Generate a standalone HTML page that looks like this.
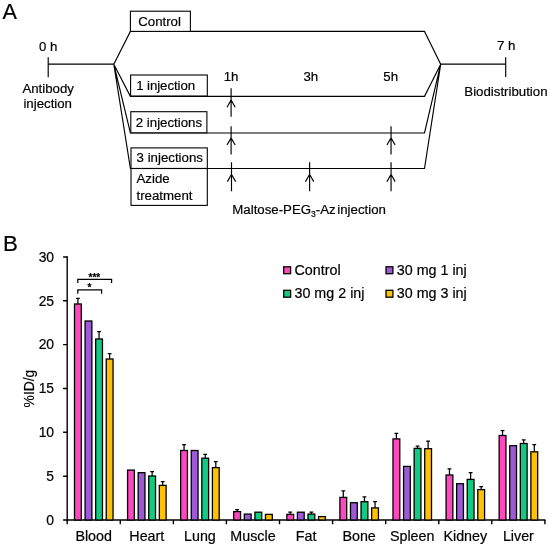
<!DOCTYPE html>
<html><head><meta charset="utf-8"><title>Figure</title>
<style>
html,body{margin:0;padding:0;background:#fff;}
body{width:550px;height:547px;overflow:hidden;}
svg{display:block;font-family:"Liberation Sans",Arial,sans-serif;fill:#000;}
text{stroke:#000;stroke-width:0.2;}
.l{stroke:#000;stroke-width:1.15;fill:none;}
.ax{stroke:#000;stroke-width:1.4;fill:none;}
.bx{stroke:#000;stroke-width:1.1;fill:#fff;}
.t13{font-size:13.25px;}
.t14{font-size:14.3px;}
.b{stroke:#000;stroke-width:1.3;}
.e{stroke:#000;stroke-width:1.25;fill:none;}
</style></head><body>
<svg width="550" height="547" viewBox="0 0 550 547">
<rect width="550" height="547" fill="#fff"/>

<text transform="translate(2.6 19.1) scale(0.95 1)" font-size="22.8">A</text>
<text transform="translate(3 251.2)" font-size="22.3">B</text>
<text class="t13" x="48.1" y="50.7" text-anchor="middle">0 h</text>
<text class="t13" x="48.2" y="92.8" text-anchor="middle">Antibody</text>
<text class="t13" x="47.7" y="107.8" text-anchor="middle">injection</text>
<path class="l" d="M48.2 57.3V77.3M48.2 64.2H113.8"/>
<path class="l" d="M113.8 64.2L130.4 31.4H424.5L440.7 64.2M113.8 64.2L130.4 96.3H424.5L440.7 64.2M113.8 64.2L130.4 132.95H424.5L440.7 64.2M113.8 64.2L130.4 168.5H424.5L440.7 64.2"/>
<path class="l" d="M440.7 64.2H505.7M505.7 57.3V77"/>
<rect class="bx" x="130.4" y="11.2" width="60" height="20.2"/>
<rect class="bx" x="130.6" y="75" width="76.7" height="21"/>
<rect class="bx" x="130.8" y="111.7" width="76.1" height="21.1"/>
<rect class="bx" x="131" y="147.9" width="76.3" height="20.6"/>
<rect class="bx" x="131" y="168.5" width="76.3" height="36.9"/>
<text class="t13" x="138.2" y="26.2">Control</text>
<text class="t13" letter-spacing="-0.08" x="136.2" y="90">1 injection</text>
<text class="t13" x="135.8" y="126.6">2 injections</text>
<text class="t13" x="136.6" y="162.1">3 injections</text>
<text class="t13" x="136.5" y="183.1">Azide</text>
<text class="t13" x="136.5" y="199.6">treatment</text>
<text class="t13" x="231" y="80.6" text-anchor="middle">1h</text>
<text class="t13" x="310.8" y="80.6" text-anchor="middle">3h</text>
<text class="t13" x="390.7" y="80.6" text-anchor="middle">5h</text>
<text class="t13" x="497" y="50.3">7 h</text>
<text class="t13" x="464.3" y="96.1">Biodistribution</text>
<text class="t13" x="232.3" y="214.4">Maltose-PEG<tspan font-size="8.5" dy="2.5">3</tspan><tspan dy="-2.5">-Az</tspan><tspan dx="1.6">injection</tspan></text>
<path class="l" d="M231.1 88.3V116.8M227.00 107.3L231.1 100L235.20 107.3"/>
<path class="l" d="M231.1 126.2V154.6M227.00 145L231.1 138L235.20 145"/>
<path class="l" d="M231.5 162.3V191.2M227.40 181.6L231.5 174.3L235.60 181.6"/>
<path class="l" d="M309.6 162.3V191.2M305.50 181.6L309.6 174.3L313.70 181.6"/>
<path class="l" d="M391.05 126.2V154.6M386.95 145L391.05 138L395.15 145"/>
<path class="l" d="M391.05 162.3V191.2M386.95 181.6L391.05 174.3L395.15 181.6"/>
<path class="ax" d="M67.2 256.3V520.0H545.5"/>
<text class="t14" style="font-size:13.9px" x="54.1" y="524.7" text-anchor="end">0</text>
<text class="t14" style="font-size:13.9px" x="54.1" y="480.9" text-anchor="end">5</text>
<text class="t14" style="font-size:13.9px" x="54.1" y="437.0" text-anchor="end">10</text>
<text class="t14" style="font-size:13.9px" x="54.1" y="393.2" text-anchor="end">15</text>
<text class="t14" style="font-size:13.9px" x="54.1" y="349.3" text-anchor="end">20</text>
<text class="t14" style="font-size:13.9px" x="54.1" y="305.5" text-anchor="end">25</text>
<text class="t14" style="font-size:13.9px" x="54.1" y="261.7" text-anchor="end">30</text>
<path class="ax" d="M63.1 520.0H67.2M63.1 476.2H67.2M63.1 432.3H67.2M63.1 388.5H67.2M63.1 344.6H67.2M63.1 300.8H67.2M63.1 257.0H67.2M67.2 520.0V524.2M120.3 520.0V524.2M173.4 520.0V524.2M226.4 520.0V524.2M279.5 520.0V524.2M332.6 520.0V524.2M385.7 520.0V524.2M438.8 520.0V524.2M491.8 520.0V524.2M544.9 520.0V524.2"/>
<text class="t14" style="font-size:13.8px" transform="translate(34.4 388.6) rotate(-90)" text-anchor="middle">%ID/g</text>
<text class="t14" x="93.7" y="541" text-anchor="middle">Blood</text>
<path class="e" d="M77.90 304V298.4M76.00 298.4H79.80"/>
<rect class="b" x="74.50" y="304" width="6.8" height="216.0" fill="#ff48be"/>
<rect class="b" x="85.08" y="321" width="6.8" height="199.0" fill="#9c5ad5"/>
<path class="e" d="M99.06 339V331.5M97.16 331.5H100.96"/>
<rect class="b" x="95.66" y="339" width="6.8" height="181.0" fill="#12ca81"/>
<path class="e" d="M109.64 359V353.5M107.74 353.5H111.54"/>
<rect class="b" x="106.24" y="359" width="6.8" height="161.0" fill="#ffc107"/>
<text class="t14" x="146.8" y="541" text-anchor="middle">Heart</text>
<rect class="b" x="127.58" y="470.1" width="6.8" height="49.9" fill="#ff48be"/>
<rect class="b" x="138.16" y="472.7" width="6.8" height="47.3" fill="#9c5ad5"/>
<path class="e" d="M152.14 476V471.6M150.24 471.6H154.04"/>
<rect class="b" x="148.74" y="476" width="6.8" height="44.0" fill="#12ca81"/>
<path class="e" d="M162.72 485.4V481.6M160.82 481.6H164.62"/>
<rect class="b" x="159.32" y="485.4" width="6.8" height="34.6" fill="#ffc107"/>
<text class="t14" x="199.9" y="541" text-anchor="middle">Lung</text>
<path class="e" d="M184.06 450.5V444.7M182.16 444.7H185.96"/>
<rect class="b" x="180.66" y="450.5" width="6.8" height="69.5" fill="#ff48be"/>
<rect class="b" x="191.24" y="450.5" width="6.8" height="69.5" fill="#9c5ad5"/>
<path class="e" d="M205.22 458.2V454.4M203.32 454.4H207.12"/>
<rect class="b" x="201.82" y="458.2" width="6.8" height="61.8" fill="#12ca81"/>
<path class="e" d="M215.80 467.6V461.5M213.90 461.5H217.70"/>
<rect class="b" x="212.40" y="467.6" width="6.8" height="52.4" fill="#ffc107"/>
<text class="t14" x="253.0" y="541" text-anchor="middle">Muscle</text>
<path class="e" d="M237.14 511.6V509.5M235.24 509.5H239.04"/>
<rect class="b" x="233.74" y="511.6" width="6.8" height="8.4" fill="#ff48be"/>
<rect class="b" x="244.32" y="514.1" width="6.8" height="5.9" fill="#9c5ad5"/>
<rect class="b" x="254.90" y="512.2" width="6.8" height="7.8" fill="#12ca81"/>
<rect class="b" x="265.48" y="514.4" width="6.8" height="5.6" fill="#ffc107"/>
<text class="t14" x="306.1" y="541" text-anchor="middle">Fat</text>
<path class="e" d="M290.22 514.4V512.2M288.32 512.2H292.12"/>
<rect class="b" x="286.82" y="514.4" width="6.8" height="5.6" fill="#ff48be"/>
<rect class="b" x="297.40" y="512.2" width="6.8" height="7.8" fill="#9c5ad5"/>
<path class="e" d="M311.38 514.1V512M309.48 512H313.28"/>
<rect class="b" x="307.98" y="514.1" width="6.8" height="5.9" fill="#12ca81"/>
<rect class="b" x="318.56" y="516.6" width="6.8" height="3.4" fill="#ffc107"/>
<text class="t14" x="359.1" y="541" text-anchor="middle">Bone</text>
<path class="e" d="M343.30 497.4V490.9M341.40 490.9H345.20"/>
<rect class="b" x="339.90" y="497.4" width="6.8" height="22.6" fill="#ff48be"/>
<rect class="b" x="350.48" y="502.7" width="6.8" height="17.3" fill="#9c5ad5"/>
<path class="e" d="M364.46 501.7V496.8M362.56 496.8H366.36"/>
<rect class="b" x="361.06" y="501.7" width="6.8" height="18.3" fill="#12ca81"/>
<path class="e" d="M375.04 507.9V501.7M373.14 501.7H376.94"/>
<rect class="b" x="371.64" y="507.9" width="6.8" height="12.1" fill="#ffc107"/>
<text class="t14" x="412.2" y="541" text-anchor="middle">Spleen</text>
<path class="e" d="M396.38 438.9V433.3M394.48 433.3H398.28"/>
<rect class="b" x="392.98" y="438.9" width="6.8" height="81.1" fill="#ff48be"/>
<rect class="b" x="403.56" y="466.4" width="6.8" height="53.6" fill="#9c5ad5"/>
<path class="e" d="M417.54 448.4V446M415.64 446H419.44"/>
<rect class="b" x="414.14" y="448.4" width="6.8" height="71.6" fill="#12ca81"/>
<path class="e" d="M428.12 448.7V441M426.22 441H430.02"/>
<rect class="b" x="424.72" y="448.7" width="6.8" height="71.3" fill="#ffc107"/>
<text class="t14" x="465.3" y="541" text-anchor="middle">Kidney</text>
<path class="e" d="M449.46 475V468.8M447.56 468.8H451.36"/>
<rect class="b" x="446.06" y="475" width="6.8" height="45.0" fill="#ff48be"/>
<rect class="b" x="456.64" y="483.7" width="6.8" height="36.3" fill="#9c5ad5"/>
<path class="e" d="M470.62 479.4V472.5M468.72 472.5H472.52"/>
<rect class="b" x="467.22" y="479.4" width="6.8" height="40.6" fill="#12ca81"/>
<path class="e" d="M481.20 489.6V486.5M479.30 486.5H483.10"/>
<rect class="b" x="477.80" y="489.6" width="6.8" height="30.4" fill="#ffc107"/>
<text class="t14" x="518.4" y="541" text-anchor="middle">Liver</text>
<path class="e" d="M502.54 435.5V430.6M500.64 430.6H504.44"/>
<rect class="b" x="499.14" y="435.5" width="6.8" height="84.5" fill="#ff48be"/>
<rect class="b" x="509.72" y="445.7" width="6.8" height="74.3" fill="#9c5ad5"/>
<path class="e" d="M523.70 443.5V439.8M521.80 439.8H525.60"/>
<rect class="b" x="520.30" y="443.5" width="6.8" height="76.5" fill="#12ca81"/>
<path class="e" d="M534.28 451.8V444.7M532.38 444.7H536.18"/>
<rect class="b" x="530.88" y="451.8" width="6.8" height="68.2" fill="#ffc107"/>
<path class="e" d="M77.8 283V279.3H111.6V283M77.8 293.8V289.9H101.6V293.8"/>
<text x="94.4" y="281" font-size="10" font-weight="bold" text-anchor="middle">***</text>
<text x="89.5" y="290.8" font-size="10" font-weight="bold" text-anchor="middle">*</text>
<rect class="b" x="283.7" y="266.8" width="6.9" height="6.9" fill="#ff48be"/>
<text class="t14" x="294.5" y="274.8">Control</text>
<rect class="b" x="386" y="266.8" width="6.9" height="6.9" fill="#9c5ad5"/>
<text class="t14" x="396.8" y="274.8">30 mg 1 inj</text>
<rect class="b" x="283.7" y="290.3" width="6.9" height="6.9" fill="#12ca81"/>
<text class="t14" x="294.5" y="298.3">30 mg 2 inj</text>
<rect class="b" x="386" y="290.3" width="6.9" height="6.9" fill="#ffc107"/>
<text class="t14" x="396.8" y="298.3">30 mg 3 inj</text>
</svg></body></html>
